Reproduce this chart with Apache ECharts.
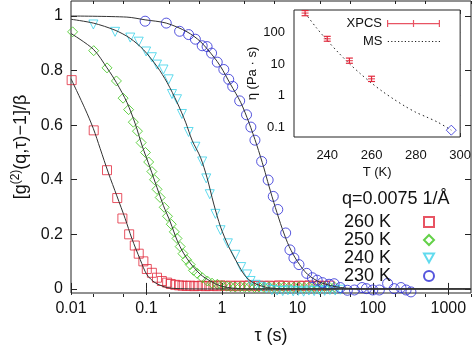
<!DOCTYPE html>
<html>
<head>
<meta charset="utf-8">
<script src="https://cdn.jsdelivr.net/npm/echarts@6/dist/echarts.min.js"></script>
<style>
html,body{margin:0;padding:0;background:#fff;}
#chart{width:474px;height:350px;}
</style>
</head>
<body>
<div id="chart"></div>
<script>
// 260 K
var tau260 = [0.0102, 0.020, 0.030, 0.041, 0.048, 0.059, 0.070, 0.079, 0.091, 0.101, 0.118, 0.138, 0.160, 0.188, 0.21, 0.24, 0.27, 0.30, 0.34, 0.38, 0.43, 0.48, 0.54, 0.61, 0.68, 0.77, 0.86, 0.96, 1.1, 1.3, 1.5, 1.7, 2.0, 2.3, 2.7, 3.1, 3.6, 4.2, 4.9, 5.7, 6.6, 7.7, 9.0, 10.5, 12.3, 14.4, 16.8, 19.6, 22.9, 26.8];
var g260 = [0.765, 0.581, 0.435, 0.333, 0.258, 0.200, 0.159, 0.129, 0.101, 0.073, 0.059, 0.041, 0.029, 0.023, 0.018, 0.015, 0.013, 0.012, 0.011, 0.012, 0.010, 0.011, 0.012, 0.010, 0.011, 0.012, 0.010, 0.013, 0.011, 0.012, 0.010, 0.012, 0.011, 0.013, 0.010, 0.012, 0.011, 0.012, 0.010, 0.013, 0.011, 0.012, 0.010, 0.012, 0.011, 0.013, 0.010, 0.012, 0.011, 0.012];
var fitTau260 = [0.01, 0.0154, 0.0198, 0.0243, 0.0313, 0.0405, 0.0523, 0.064, 0.0828, 0.101, 0.13, 0.188, 0.28, 0.5, 2000];
var fit260 = [0.77, 0.659, 0.587, 0.515, 0.425, 0.341, 0.257, 0.185, 0.107, 0.053, 0.023, 0.005, 0.001, 0, 0];

// 250 K
var tau250 = [0.0105, 0.020, 0.030, 0.040, 0.049, 0.058, 0.067, 0.076, 0.085, 0.097, 0.107, 0.118, 0.128, 0.138, 0.152, 0.172, 0.19, 0.213, 0.234, 0.254, 0.28, 0.305, 0.34, 0.38, 0.42, 0.47, 0.55, 0.64, 0.74, 0.87, 1.0, 1.15, 1.3, 1.5, 1.75, 2.0, 2.3, 2.7, 3.1, 3.6, 4.2, 4.9, 5.7, 6.6, 7.7, 9.0, 10.5, 12.3, 14.4, 16.8, 19.6, 22.9, 26.8, 31];
var g250 = [0.942, 0.873, 0.810, 0.762, 0.699, 0.657, 0.611, 0.578, 0.536, 0.500, 0.465, 0.430, 0.400, 0.365, 0.335, 0.299, 0.266, 0.237, 0.209, 0.185, 0.155, 0.129, 0.107, 0.089, 0.068, 0.057, 0.041, 0.029, 0.021, 0.017, 0.012, 0.010, 0.008, 0.007, 0.008, 0.006, 0.007, 0.005, 0.007, 0.006, 0.008, 0.005, 0.006, 0.007, 0.005, 0.006, 0.008, 0.005, 0.007, 0.006, 0.005, 0.008, 0.006, 0.007];
var fitTau250 = [0.01, 0.0198, 0.03, 0.04, 0.055, 0.071, 0.087, 0.112, 0.138, 0.168, 0.207, 0.254, 0.31, 0.38, 0.52, 0.7, 0.96, 1.5, 3, 2000];
var fit250 = [0.936, 0.878, 0.81, 0.756, 0.684, 0.605, 0.527, 0.443, 0.371, 0.305, 0.245, 0.179, 0.131, 0.095, 0.053, 0.029, 0.011, 0.002, 0, 0];

// 240 K
var tau240 = [0.0198, 0.0384, 0.061, 0.079, 0.099, 0.118, 0.138, 0.168, 0.197, 0.218, 0.254, 0.295, 0.362, 0.445, 0.547, 0.62, 0.69, 0.82, 0.96, 1.2, 1.51, 1.8, 2.16, 2.4, 2.8, 3.3, 3.9, 4.6, 5.4, 6.4, 7.5, 8.8, 10.3, 12.1, 14.2, 16.7, 19.6, 23, 27, 31.7, 37];
var g240 = [0.969, 0.942, 0.921, 0.906, 0.870, 0.849, 0.822, 0.804, 0.768, 0.714, 0.695, 0.641, 0.575, 0.521, 0.467, 0.405, 0.347, 0.275, 0.215, 0.167, 0.125, 0.080, 0.053, 0.029, 0.015, 0.008, 0.002, -0.004, -0.006, -0.008, -0.005, -0.009, -0.007, -0.010, -0.006, -0.008, -0.005, -0.007, -0.004, -0.006, -0.003];
var fitTau240 = [0.01, 0.0198, 0.0384, 0.061, 0.0916, 0.138, 0.188, 0.254, 0.33, 0.402, 0.52, 0.636, 0.78, 0.96, 1.23, 1.6, 2.04, 2.6, 4, 8, 2000];
var fit240 = [0.988, 0.974, 0.948, 0.918, 0.876, 0.815, 0.756, 0.684, 0.611, 0.545, 0.482, 0.407, 0.311, 0.227, 0.155, 0.095, 0.047, 0.023, 0.005, 0, 0];

// 230 K
var tau230 = [0.096, 0.183, 0.275, 0.362, 0.445, 0.548, 0.636, 0.73, 0.867, 1.06, 1.23, 1.39, 1.72, 2.12, 2.42, 2.74, 3.36, 4.1, 4.79, 5.5, 7.0, 7.97, 9.0, 10.5, 13.3, 15.8, 18.3, 21.5, 26.3, 30.7, 37, 46, 57, 72, 82, 100, 122, 157, 192, 236, 276, 320];
var g230 = [0.981, 0.974, 0.944, 0.932, 0.915, 0.891, 0.888, 0.864, 0.831, 0.804, 0.768, 0.742, 0.689, 0.638, 0.593, 0.545, 0.467, 0.399, 0.339, 0.291, 0.205, 0.143, 0.113, 0.089, 0.057, 0.041, 0.032, 0.023, 0.017, 0.019, 0.005, -0.005, -0.004, 0.005, 0.001, -0.004, -0.004, 0.020, 0.001, 0.005, -0.004, -0.011];
var fitTau230 = [0.01, 0.055, 0.096, 0.183, 0.345, 0.52, 0.78, 0.96, 1.3, 1.77, 2.27, 2.9, 3.6, 4.2, 5.1, 6.3, 7.8, 10, 13.7, 20.6, 37.6, 80, 2000];
var fit230 = [1.0, 0.996, 0.986, 0.974, 0.942, 0.906, 0.85, 0.815, 0.75, 0.684, 0.611, 0.527, 0.443, 0.377, 0.299, 0.221, 0.155, 0.101, 0.053, 0.023, 0.005, 0, 0];

// inset: viscosity
var xpcsT = [230, 240, 250, 260];
var xpcsEta = [400, 62, 12.7, 3.4];
var xpcsLo = [330, 52, 10.5, 2.8];
var xpcsHi = [480, 74, 15.3, 4.1];
var msT = [230, 235, 240, 245, 250, 255, 260, 265, 270, 275, 280, 285, 290, 296];
var msEta = [400, 141, 55, 22.9, 10.2, 4.9, 2.5, 1.35, 0.78, 0.47, 0.30, 0.21, 0.145, 0.082];
var msPointT = [296];
var msPointEta = [0.082];

// ticks
var tauMajor = [0.01, 0.1, 1, 10, 100, 1000];
var tauMinor = [0.02, 0.05, 0.2, 0.5, 2, 5, 20, 50, 200, 500, 2000];
var gTicks = [0, 0.2, 0.4, 0.6, 0.8, 1];
var tLabels = [240, 260, 280, 300];
var tTicks = [230, 240, 250, 260, 270, 280, 290, 300];
var etaTicks = [0.1, 1, 10, 100];

var FONT = 'Liberation Sans, Arial, sans-serif';
var INK = '#111';
var FRAME = '#222';
var C260 = '#e2293c', C250 = '#3cc61a', C240 = '#3ad2ea', C230 = '#2a2ad4';

function pairs(xs, ys) {
  var out = [];
  for (var i = 0; i < Math.min(xs.length, ys.length); i++) out.push([xs[i], ys[i]]);
  return out;
}
function numLabel(v) {
  if (v >= 1) return String(Math.round(v));
  return String(+v.toPrecision(2));
}
function tickAxis(extra) {
  var a = {
    axisLine: { show: false },
    splitLine: { show: false },
    axisLabel: { show: false },
    axisTick: { show: true, inside: true, length: 6, lineStyle: { color: FRAME } }
  };
  for (var k in extra) a[k] = extra[k];
  return a;
}

// dotted key sample for the MS line
var dotPath = 'path://';
for (var d = 0; d <= 51; d += 3.4) dotPath += 'M' + d + ',0h1.2v1.2h-1.2z ';

var chart = echarts.init(document.getElementById('chart'), null, { renderer: 'canvas' });

var mainGrid = { left: 71, top: 1, right: 3, bottom: 53 };
var insetGrid = { left: 294, top: 10, width: 168, height: 127 };

function hollow(name, sym, size, color, rot) {
  return {
    name: name, type: 'scatter', xAxisIndex: 0, yAxisIndex: 0,
    data: null, symbol: sym, symbolSize: size, symbolRotate: rot || 0,
    itemStyle: { color: 'rgba(0,0,0,0)', borderColor: color, borderWidth: 1 }
  };
}
function fitLine(xs, ys) {
  return {
    type: 'line', xAxisIndex: 0, yAxisIndex: 0, data: pairs(xs, ys),
    symbol: 'none', smooth: 0.3, silent: true,
    lineStyle: { color: '#333', width: 1 }
  };
}

var s260 = hollow('260 K', 'rect', 9, C260); s260.data = pairs(tau260, g260);
var s250 = hollow('250 K', 'diamond', 10, C250); s250.data = pairs(tau250, g250);
var s240 = hollow('240 K', 'triangle', 9, C240, 180); s240.data = pairs(tau240, g240);
var s230 = hollow('230 K', 'circle', 10, C230); s230.data = pairs(tau230, g230);

var xpcsData = [];
for (var i = 0; i < xpcsT.length; i++) xpcsData.push([xpcsT[i], xpcsEta[i], xpcsLo[i], xpcsHi[i]]);

chart.setOption({
  animation: false,
  backgroundColor: '#fff',
  textStyle: { fontFamily: FONT, color: INK },
  title: {
    text: 'q=0.0075 1/Å', left: 342, top: 190, padding: 0,
    textStyle: { fontSize: 18, fontWeight: 'normal', color: INK, fontFamily: FONT }
  },
  legend: [
    {
      data: ['260 K', '250 K', { name: '240 K', icon: 'path://M0,0L10,0L5,9Z' }, '230 K'],
      orient: 'vertical', align: 'right', right: 39, top: 213, padding: 0,
      itemWidth: 10, itemHeight: 10, itemGap: 0, selectedMode: false,
      textStyle: { fontSize: 18, color: INK, fontFamily: FONT, lineHeight: 16.5, padding: [0, 28, 0, 0] }
    },
    {
      data: [{
        name: 'XPCS',
        icon: 'path://M0,4h53v1.2h-53z M0,1h1.2v7h-1.2z M51.8,1h1.2v7h-1.2z M25.9,1h1.2v7h-1.2z'
      }],
      orient: 'vertical', align: 'right', right: 34, top: 16, padding: 0,
      itemWidth: 53, itemHeight: 8, selectedMode: false,
      inactiveColor: C260, inactiveBorderColor: C260,
      itemStyle: { color: C260, borderWidth: 0 },
      textStyle: { fontSize: 13, color: INK, fontFamily: FONT, lineHeight: 15 }
    },
    {
      data: [{ name: 'MS', icon: dotPath }],
      orient: 'vertical', align: 'right', right: 34, top: 34, padding: 0,
      itemWidth: 53, itemHeight: 1.2, selectedMode: false,
      textStyle: { fontSize: 13, color: INK, fontFamily: FONT, lineHeight: 15 }
    }
  ],
  grid: [
    Object.assign({ show: true, borderColor: FRAME, borderWidth: 1 }, mainGrid),
    Object.assign({ show: false }, mainGrid),
    Object.assign({ show: true, borderColor: FRAME, borderWidth: 1, backgroundColor: '#fff', z: 3 }, insetGrid)
  ],
  xAxis: [
    tickAxis({
      gridIndex: 0, type: 'log', logBase: 10, min: 0.01, max: 2000, position: 'bottom',
      name: 'τ (s)', nameLocation: 'middle', nameGap: 34,
      nameTextStyle: { fontSize: 18, color: INK, fontFamily: FONT },
      axisLabel: { show: true, customValues: tauMajor, margin: 8, fontSize: 16, color: INK, fontFamily: FONT, formatter: numLabel },
      axisTick: { show: true, inside: true, length: 6, customValues: tauMajor, lineStyle: { color: FRAME } }
    }),
    tickAxis({
      gridIndex: 0, type: 'log', logBase: 10, min: 0.01, max: 2000, position: 'top',
      axisTick: { show: true, inside: true, length: 6, customValues: tauMajor, lineStyle: { color: FRAME } }
    }),
    tickAxis({
      gridIndex: 1, type: 'log', logBase: 10, min: 0.01, max: 2000, position: 'bottom',
      axisTick: { show: true, inside: true, length: 3, customValues: tauMinor, lineStyle: { color: FRAME } }
    }),
    tickAxis({
      gridIndex: 1, type: 'log', logBase: 10, min: 0.01, max: 2000, position: 'top',
      axisTick: { show: true, inside: true, length: 3, customValues: tauMinor, lineStyle: { color: FRAME } }
    }),
    tickAxis({
      gridIndex: 2, type: 'value', min: 225, max: 300, position: 'bottom',
      name: 'T (K)', nameLocation: 'middle', nameGap: 29,
      nameTextStyle: { fontSize: 13, color: INK, fontFamily: FONT },
      axisLabel: { show: true, customValues: tLabels, margin: 12, fontSize: 13, color: INK, fontFamily: FONT },
      axisTick: { show: true, inside: true, length: 4, customValues: tTicks, lineStyle: { color: FRAME } }
    }),
    tickAxis({
      gridIndex: 2, type: 'value', min: 225, max: 300, position: 'top',
      axisTick: { show: true, inside: true, length: 4, customValues: tTicks, lineStyle: { color: FRAME } }
    })
  ],
  yAxis: [
    tickAxis({
      gridIndex: 0, type: 'value', min: -0.015, max: 1.055, position: 'left',
      name: '[g{sup|(2)}(q,τ)−1]/β', nameLocation: 'middle', nameGap: 37,
      nameTextStyle: {
        fontSize: 18, color: INK, fontFamily: FONT,
        rich: { sup: { fontSize: 12, color: INK, fontFamily: FONT, verticalAlign: 'top', padding: [0, 0, 10, 0] } }
      },
      axisLabel: { show: true, customValues: gTicks, margin: 8, fontSize: 16, color: INK, fontFamily: FONT, formatter: function (v) { return String(+v.toFixed(1)); } },
      axisTick: { show: true, inside: true, length: 6, customValues: gTicks, lineStyle: { color: FRAME } }
    }),
    tickAxis({
      gridIndex: 0, type: 'value', min: -0.015, max: 1.055, position: 'right',
      axisTick: { show: true, inside: true, length: 6, customValues: gTicks, lineStyle: { color: FRAME } }
    }),
    { gridIndex: 1, type: 'value', show: false, min: 0, max: 1 },
    tickAxis({
      gridIndex: 2, type: 'log', logBase: 10, min: 0.05, max: 500, position: 'left',
      name: 'η (Pa · s)', nameLocation: 'middle', nameGap: 17,
      nameTextStyle: { fontSize: 13, color: INK, fontFamily: FONT },
      axisLabel: { show: true, customValues: etaTicks, margin: 9, fontSize: 13, color: INK, fontFamily: FONT, formatter: numLabel },
      axisTick: { show: true, inside: true, length: 4, customValues: etaTicks, lineStyle: { color: FRAME } }
    }),
    tickAxis({
      gridIndex: 2, type: 'log', logBase: 10, min: 0.05, max: 500, position: 'right',
      axisTick: { show: true, inside: true, length: 4, customValues: etaTicks, lineStyle: { color: FRAME } }
    })
  ],
  series: [
    s260, fitLine(fitTau260, fit260),
    s250, fitLine(fitTau250, fit250),
    s240, fitLine(fitTau240, fit240),
    s230, fitLine(fitTau230, fit230),
    {
      name: 'MS', type: 'line', xAxisIndex: 4, yAxisIndex: 3, z: 4,
      data: pairs(msT, msEta), symbol: 'none', smooth: 0.3, silent: true,
      itemStyle: { color: '#222' },
      lineStyle: { color: '#222', width: 1, type: [1.5, 3] }
    },
    {
      type: 'scatter', xAxisIndex: 4, yAxisIndex: 3, z: 4,
      data: pairs(msPointT, msPointEta), symbol: 'diamond', symbolSize: 10,
      itemStyle: { color: 'rgba(0,0,0,0)', borderColor: C230, borderWidth: 1 }
    },
    {
      // vertical error bars with caps
      type: 'custom', xAxisIndex: 4, yAxisIndex: 3, z: 5,
      data: xpcsData,
      encode: { x: 0, y: 1 },
      renderItem: function (params, api) {
        var c = api.coord([api.value(0), api.value(1)]);
        var lo = api.coord([api.value(0), api.value(2)]);
        var hi = api.coord([api.value(0), api.value(3)]);
        var w = 3.5;
        var st = { stroke: C260, lineWidth: 1.2 };
        return {
          type: 'group',
          children: [
            { type: 'line', shape: { x1: c[0], y1: lo[1], x2: c[0], y2: hi[1] }, style: st },
            { type: 'line', shape: { x1: c[0] - w, y1: lo[1], x2: c[0] + w, y2: lo[1] }, style: st },
            { type: 'line', shape: { x1: c[0] - w, y1: hi[1], x2: c[0] + w, y2: hi[1] }, style: st }
          ]
        };
      }
    },
    {
      name: 'XPCS', type: 'scatter', xAxisIndex: 4, yAxisIndex: 3, z: 6,
      data: pairs(xpcsT, xpcsEta),
      symbol: 'path://M0,0h7v1.2h-7z', symbolSize: [7, 1.2],
      itemStyle: { color: C260 }
    }
  ]
});
</script>
</body>
</html>
